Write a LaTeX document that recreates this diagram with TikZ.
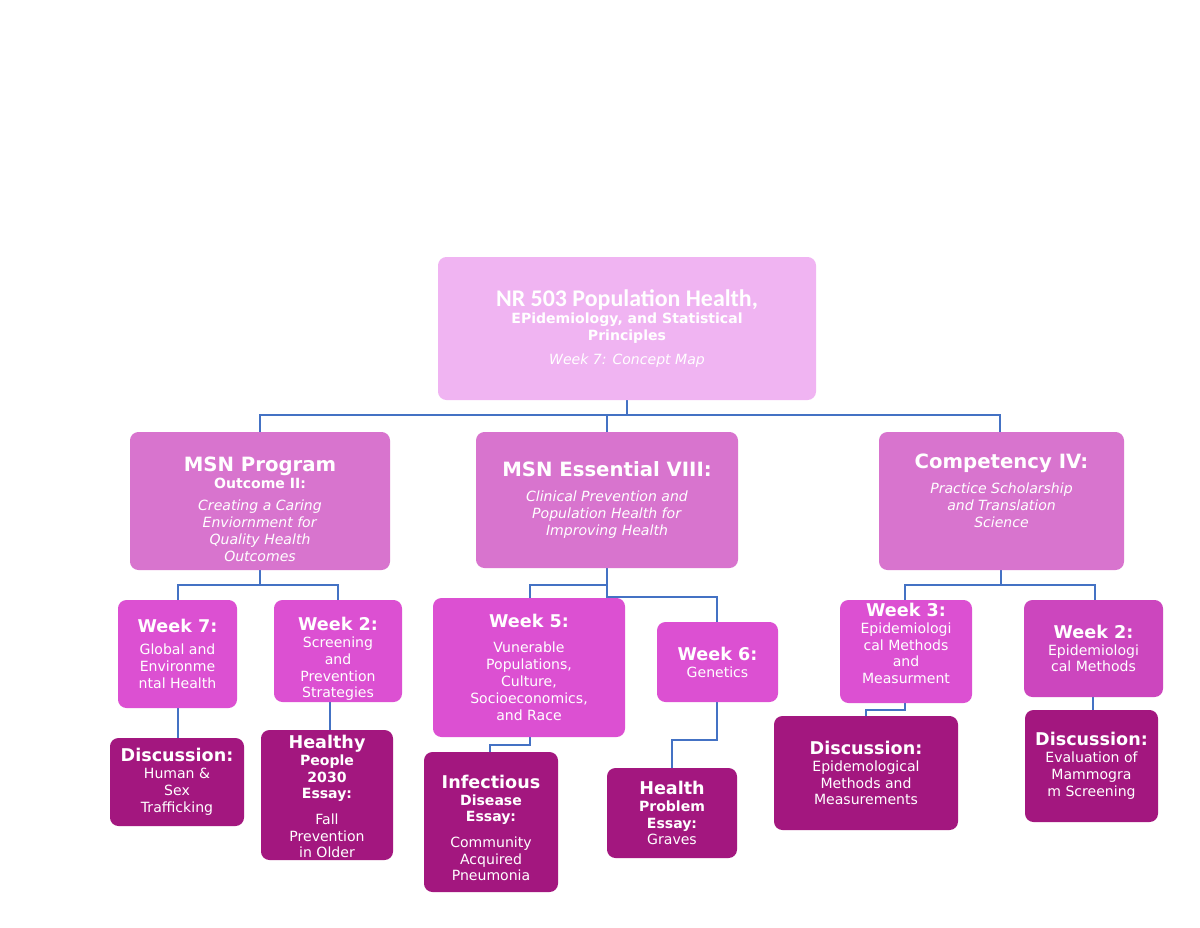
\documentclass[tikz,border=0pt]{standalone}
\usepackage{fontspec}
\setmainfont{DejaVu Sans}
\newfontfamily\calib{Carlito}
\begin{document}
\begin{tikzpicture}[x=0.025cm,y=-0.025cm,
  conn/.style={draw=lineblue,line width=1.4pt},
  boxtxt/.style={text=white,align=center,inner sep=0pt}]
\definecolor{lineblue}{HTML}{4472C4}
\definecolor{cTop}{HTML}{F0B4F2}
\definecolor{cL1}{HTML}{D874CE}
\definecolor{cL2}{HTML}{DC50D2}
\definecolor{cL2b}{HTML}{CC46BE}
\definecolor{cL3}{HTML}{A3177F}
\newcommand\bx[8]{%
  \node[fill=#6,rounded corners=6pt,minimum width={(#4-#2)*0.025cm},minimum height={(#5-#3)*0.025cm},inner sep=0pt] (#1) at ({(#2+#4)/2},{(#3+#5)/2}) {};
  \begin{scope}
  \clip[rounded corners=6pt] (#2,#3) rectangle (#4,#5);
  \node[boxtxt] at ({(#2+#4)/2},{(#3+#5)/2+#8}) {#7};
  \end{scope}}
\fill[white] (0,0) rectangle (1200,927);
\useasboundingbox (0,0) rectangle (1200,927);
% connectors (drawn first)
\coordinate (t0) at (627,415);
\draw[conn] (627,400) -- (t0);
\draw[conn] (260,432) |- (1000,415) -- (1000,432);
\draw[conn] (607,415) -- (607,432);
\draw[conn] (260,570) -- (260,585);
\draw[conn] (178,600) |- (338,585) -- (338,600);
\draw[conn] (607,568) -- (607,585);
\draw[conn] (530,598) |- (607,585);
\draw[conn] (607,585) -- (607,597) -- (717,597) -- (717,622);
\draw[conn] (1001,570) -- (1001,585);
\draw[conn] (905,600) |- (1095,585) -- (1095,600);
\draw[conn] (178,708) -- (178,738);
\draw[conn] (330,702) -- (330,730);
\draw[conn] (530,737) -- (530,745) -- (490,745) -- (490,752);
\draw[conn] (717,702) -- (717,740) -- (672,740) -- (672,768);
\draw[conn] (905,703) -- (905,710) -- (866,710) -- (866,716);
\draw[conn] (1093,697) -- (1093,710);
% top
\bx{top}{438}{257}{816}{400}{cTop}{\calib\fontsize{17}{23}\selectfont\textbf{NR 503 Population Health,}\\\textbf{EPidemiology, and Statistical}\\\textbf{Principles}\\[5pt]\textit{Week 7: Concept Map}}{0}
% level 1
\bx{l1a}{130}{432}{390}{570}{cL1}{\fontsize{14}{19}\selectfont\textbf{MSN Program}\\\textbf{Outcome II:}\\[4pt]\textit{Creating a Caring}\\\textit{Enviornment for}\\\textit{Quality Health}\\\textit{Outcomes}}{8}
\bx{l1b}{476}{432}{738}{568}{cL1}{\fontsize{14}{19}\selectfont\textbf{MSN Essential VIII:}\\[6pt]\textit{Clinical Prevention and}\\\textit{Population Health for}\\\textit{Improving Health}}{0}
\bx{l1c}{879}{432}{1124}{570}{cL1}{\fontsize{14}{19}\selectfont\textbf{Competency IV:}\\[6pt]\textit{Practice Scholarship}\\\textit{and Translation}\\\textit{Science}}{-10}
% level 2
\bx{w7}{118}{600}{237}{708}{cL2}{\fontsize{12.5}{16.5}\selectfont\textbf{Week 7:}\\[4pt]Global and\\Environme\\ntal Health}{0}
\bx{w2a}{274}{600}{402}{702}{cL2}{\fontsize{12.5}{16.5}\selectfont\textbf{Week 2:}\\Screening\\and\\Prevention\\Strategies}{8}
\bx{w5}{433}{598}{625}{737}{cL2}{\fontsize{12.5}{16.5}\selectfont\textbf{Week 5:}\\[6pt]Vunerable\\Populations,\\Culture,\\Socioeconomics,\\and Race}{0}
\bx{w6}{657}{622}{778}{702}{cL2}{\fontsize{12.5}{16.5}\selectfont\textbf{Week 6:}\\Genetics}{0}
\bx{w3}{840}{600}{972}{703}{cL2}{\fontsize{12.5}{16.5}\selectfont\textbf{Week 3:}\\Epidemiologi\\cal Methods\\and\\Measurment}{-8}
\bx{w2b}{1024}{600}{1163}{697}{cL2b}{\fontsize{12.5}{16.5}\selectfont\textbf{Week 2:}\\Epidemiologi\\cal Methods}{0}
% level 3
\bx{d1}{110}{738}{244}{826}{cL3}{\fontsize{12.5}{16.5}\selectfont\textbf{Discussion:}\\Human \&\\Sex\\Trafficking}{0}
\bx{e1}{261}{730}{393}{860}{cL3}{\fontsize{12.5}{16.5}\selectfont\textbf{Healthy}\\\textbf{People}\\\textbf{2030}\\\textbf{Essay:}\\[6pt]Fall\\Prevention\\in Older\\Adults}{10}
\bx{e2}{424}{752}{558}{892}{cL3}{\fontsize{12.5}{16.5}\selectfont\textbf{Infectious}\\\textbf{Disease}\\\textbf{Essay:}\\[6pt]Community\\Acquired\\Pneumonia}{6}
\bx{e3}{607}{768}{737}{858}{cL3}{\fontsize{12.5}{16.5}\selectfont\textbf{Health}\\\textbf{Problem}\\\textbf{Essay:}\\Graves}{0}
\bx{d2}{774}{716}{958}{830}{cL3}{\fontsize{12.5}{16.5}\selectfont\textbf{Discussion:}\\Epidemological\\Methods and\\Measurements}{0}
\bx{d3}{1025}{710}{1158}{822}{cL3}{\fontsize{12.5}{16.5}\selectfont\textbf{Discussion:}\\Evaluation of\\Mammogra\\m Screening}{0}
\end{tikzpicture}
\end{document}
